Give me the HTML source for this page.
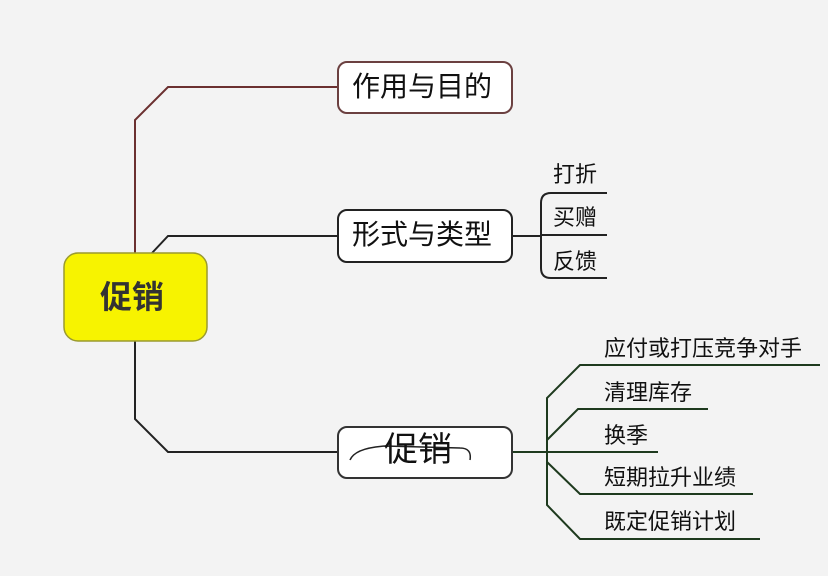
<!DOCTYPE html>
<html><head><meta charset="utf-8"><style>
html,body{margin:0;padding:0;background:#f3f3f3;}
body{width:828px;height:576px;position:relative;overflow:hidden;font-family:"Liberation Sans","Noto Sans CJK SC",sans-serif;}
.t{position:absolute;color:#111;white-space:nowrap;line-height:1;}
.c{font-size:22px;}
</style></head><body>
<svg width="828" height="576" style="position:absolute;left:0;top:0">
<g fill="none" stroke="#222" stroke-width="2">
<path d="M135 253 V120 L168 87 H338" stroke="#6b3030"/>
<path d="M152 253 L168 236 H338"/>
<path d="M135 341 V419 L168 452 H338"/>
<path d="M512 236 H541"/>
<path d="M607 193 H551 Q541 193 541 203 V268 Q541 278 551 278 H607"/>
<path d="M541 235 H607"/>
<path d="M512 452 H658" stroke="#1e3a1e"/>
<path d="M820 365 H580 L547 398 V505 L580 539 H760" stroke="#1e3a1e"/>
<path d="M547 440 L578 409 H708" stroke="#1e3a1e"/>
<path d="M547 462 L580 494 H753" stroke="#1e3a1e"/>
</g>
<rect x="64" y="253" width="143" height="88" rx="14" fill="#f7f300" stroke="#9a9a30" stroke-width="1.5"/>
<rect x="338" y="62" width="174" height="51" rx="9" fill="#fff" stroke="#6b4040" stroke-width="2"/>
<rect x="338" y="210" width="174" height="52" rx="9" fill="#fff" stroke="#222" stroke-width="2"/>
<rect x="338" y="427" width="174" height="51" rx="9" fill="#fff" stroke="#333" stroke-width="2"/>
<path d="M350 460 Q355 448 385 446 L460 448 Q472 448 470 460" fill="none" stroke="#222" stroke-width="1.5"/>
</svg>
<div class="t" style="left:100px;top:281px;font-size:32px;font-weight:bold;color:#333">促销</div>
<div class="t" style="left:352px;top:73px;font-size:28px">作用与目的</div>
<div class="t" style="left:352px;top:221px;font-size:28px">形式与类型</div>
<div class="t" style="left:384px;top:433px;font-size:34px">促销</div>
<div class="t c" style="left:553px;top:164px">打折</div>
<div class="t c" style="left:553px;top:207px">买赠</div>
<div class="t c" style="left:553px;top:251px">反馈</div>
<div class="t c" style="left:604px;top:338px">应付或打压竞争对手</div>
<div class="t c" style="left:604px;top:382px">清理库存</div>
<div class="t c" style="left:604px;top:425px">换季</div>
<div class="t c" style="left:604px;top:467px">短期拉升业绩</div>
<div class="t c" style="left:604px;top:511px">既定促销计划</div>
</body></html>
